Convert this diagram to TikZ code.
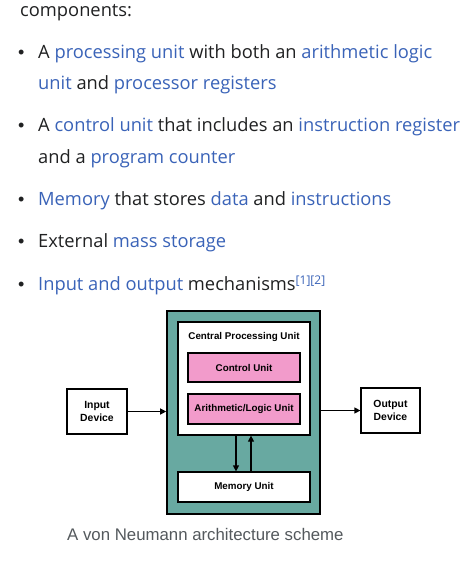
\documentclass[tikz,border=0pt]{standalone}
\usepackage{fontspec}
\setmainfont{Liberation Sans}
\newfontfamily\bodyfont{Open Sans}
\usetikzlibrary{arrows.meta}
\definecolor{linkc}{HTML}{3A63B8}
\definecolor{txtc}{HTML}{202122}
\definecolor{tealc}{HTML}{68A9A1}
\definecolor{pinkc}{HTML}{F29BCB}
\definecolor{capc}{HTML}{54595D}
\newcommand{\lk}[1]{\textcolor{linkc}{#1}}
\tikzset{
  body/.style={anchor=base west, inner sep=0pt, text=txtc, font=\bodyfont\fontsize{18.3}{22}\selectfont},
  bul/.style={anchor=base west, inner sep=0pt, text=txtc, font=\fontsize{18}{22}\selectfont},
  box/.style={draw=black, line width=1.2pt, rectangle, inner sep=0pt, font=\bfseries\fontsize{9.8}{11.5}\selectfont, align=center},
  iobox/.style={box, font=\bfseries\fontsize{10.4}{12.5}\selectfont},
  arr/.style={line width=1.2pt, -{Triangle[length=6pt,width=6pt]}},
}
\begin{document}
\begin{tikzpicture}[x=1pt,y=-1pt]
\useasboundingbox (0,0) rectangle (474,565);
\fill[white] (0,0) rectangle (474,565);
% text
\node[body] (t0) at (20,16) {components:};
\node[bul] (b1) at (18,58) {•};
\node[body] (l1a) at (38,58) {A \lk{processing unit} with both an \lk{arithmetic logic}};
\node[body] (l1b) at (38,89) {\lk{unit} and \lk{processor registers}};
\node[bul] (b2) at (18,131) {•};
\node[body] (l2a) at (38,131) {A \lk{control unit} that includes an \lk{instruction register}};
\node[body] (l2b) at (38,163) {and a \lk{program counter}};
\node[bul] (b3) at (18,205) {•};
\node[body] (l3) at (38,205) {\lk{Memory} that stores \lk{data} and \lk{instructions}};
\node[bul] (b4) at (18,247) {•};
\node[body] (l4) at (38,247) {External \lk{mass storage}};
\node[bul] (b5) at (18,290) {•};
\node[body] (l5) at (38,290) {\lk{Input and output} mechanisms\raisebox{6pt}{\lk{\fontsize{12}{12}\selectfont [1][2]}}};
% diagram
\node[box, fill=tealc, line width=1.6pt, minimum width=153pt, minimum height=203pt] (teal) at (243.5,412.5) {};
\node[box, fill=white, minimum width=132pt, minimum height=113pt] (cpu) at (244,378.5) {};
\node[inner sep=0pt, font=\bfseries\fontsize{9.8}{11.5}\selectfont] (cpul) at (244,337) {Central Processing Unit};
\node[box, fill=pinkc, minimum width=112pt, minimum height=29pt] (cu) at (244,367.5) {Control Unit};
\node[box, fill=pinkc, minimum width=112pt, minimum height=30pt] (alu) at (244,409) {Arithmetic/Logic Unit};
\node[box, fill=white, minimum width=132pt, minimum height=30pt] (mem) at (244,487) {Memory Unit};
\node[iobox, fill=white, minimum width=60pt, minimum height=45pt] (in) at (97,411.5) {Input\\Device};
\node[iobox, fill=white, minimum width=59pt, minimum height=45pt] (out) at (390.5,410.5) {Output\\Device};
\draw[arr] (in.east) -- (in.east -| teal.west);
\draw[arr] (teal.east |- out.west) -- (out.west);
\draw[arr] ([xshift=-8pt]cpu.south) -- ([xshift=-8pt]mem.north);
\draw[arr] ([xshift=7pt]mem.north) -- ([xshift=7pt]cpu.south);
% caption
\node[anchor=base west, inner sep=0pt, text=capc, font=\fontsize{16.8}{20}\selectfont] (cap) at (67,540) {A von Neumann architecture scheme};
\end{tikzpicture}
\end{document}
